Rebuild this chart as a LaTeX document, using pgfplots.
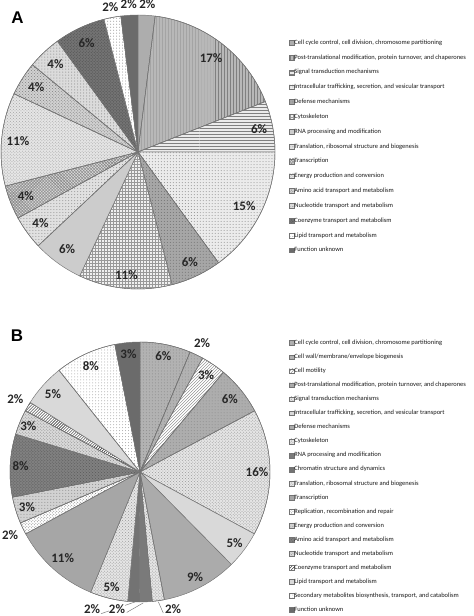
\documentclass[border=0pt]{standalone}
\usepackage{pgfplots}
\pgfplotsset{compat=1.18}
\usepackage{fontspec}
\setmainfont{Carlito}
\newfontfamily\arialfont{Liberation Sans}
\usetikzlibrary{patterns}

\tikzset{
  slice/.style={draw=black!55, line width=0.45bp},
  slicelabel/.style={font=\fontsize{13}{13}\selectfont\bfseries, text=black!85, inner sep=0pt},
  % panel A
  sA1/.style={slice, fill=black!32},
  sA2/.style={slice, fill=black!28, postaction={pattern=vertical lines, pattern color=black!50}},
  sA3/.style={slice, fill=black!8, postaction={pattern=horizontal lines, pattern color=black!50}},
  sA4/.style={slice, fill=black!8, postaction={pattern=dots, pattern color=black!45}},
  sA5/.style={slice, fill=black!35, postaction={pattern=dots, pattern color=black!55}},
  sA6/.style={slice, fill=black!6, postaction={pattern=grid, pattern color=black!40}},
  sA7/.style={slice, fill=black!20},
  sA8/.style={slice, fill=black!12, postaction={pattern=dots, pattern color=black!45}},
  sA9/.style={slice, fill=black!15, postaction={pattern=crosshatch, pattern color=black!50}},
  sA10/.style={slice, fill=black!10, postaction={pattern=crosshatch dots, pattern color=black!35}},
  sA11/.style={slice, fill=black!18, postaction={pattern=crosshatch dots, pattern color=black!50}},
  sA12/.style={slice, fill=black!14, postaction={pattern=dots, pattern color=black!50}},
  sA13/.style={slice, fill=black!55, postaction={pattern=crosshatch dots, pattern color=black!70}},
  sA14/.style={slice, fill=white, postaction={pattern=dots, pattern color=black!45}},
  sA15/.style={slice, fill=black!58},
  % panel B
  sB1/.style={slice, fill=black!30, postaction={pattern=dots, pattern color=black!45}},
  sB2/.style={slice, fill=black!30, postaction={pattern=dots, pattern color=black!45}},
  sB3/.style={slice, fill=white, postaction={pattern=north east lines, pattern color=black!50}},
  sB4/.style={slice, fill=black!32, postaction={pattern=dots, pattern color=black!45}},
  sB5/.style={slice, fill=black!10, postaction={pattern=crosshatch dots, pattern color=black!40}},
  sB6/.style={slice, fill=black!15},
  sB7/.style={slice, fill=black!33},
  sB8/.style={slice, fill=black!10, postaction={pattern=crosshatch dots, pattern color=black!40}},
  sB9/.style={slice, fill=black!52},
  sB10/.style={slice, fill=black!55},
  sB11/.style={slice, fill=black!10, postaction={pattern=crosshatch dots, pattern color=black!40}},
  sB12/.style={slice, fill=black!35},
  sB13/.style={slice, fill=white, postaction={pattern=crosshatch dots, pattern color=black!50}},
  sB14/.style={slice, fill=black!18, postaction={pattern=dots, pattern color=black!45}},
  sB15/.style={slice, fill=black!50, postaction={pattern=crosshatch dots, pattern color=black!65}},
  sB16/.style={slice, fill=black!15, postaction={pattern=crosshatch dots, pattern color=black!45}},
  sB17/.style={slice, fill=white, postaction={pattern=north east lines, pattern color=black!90}},
  sB18/.style={slice, fill=black!15},
  sB19/.style={slice, fill=white, postaction={pattern=dots, pattern color=black!35}},
  sB20/.style={slice, fill=black!58},
}

\pgfplotsset{
  pieaxis/.style={
    hide axis, clip=false, data cs=polar,
    xmin=-1, xmax=1, ymin=-1, ymax=1,
    area legend,
    legend image code/.code={\draw[##1] (0bp,-2.4bp) rectangle (4.8bp,2.4bp);},
    legend cell align=left,
    legend style={draw=none, fill=none, inner sep=0pt, anchor=north west,
      font=\fontsize{6.5}{7}\selectfont, text=black!90,
      nodes={inner sep=0pt, text height=4.6bp, text depth=1.4bp},
      /tikz/every even column/.append style={column sep=2bp}},
  },
}

% one wedge: value, style, label, label radius (0 = no label)
\newcommand\piecum{0}
\newcommand\pietotal{100}
\newcommand\pieR{137bp}
\newcommand\pieslice[4]{%
  \pgfmathsetmacro\aA{90-360*(\piecum/\pietotal)}%
  \pgfmathsetmacro\newcum{\piecum+#1}%
  \pgfmathsetmacro\aB{90-360*(\newcum/\pietotal)}%
  \pgfmathsetmacro\aM{(\aA+\aB)/2}%
  \pgfmathsetmacro\lx{#4*cos(\aM)}%
  \pgfmathsetmacro\ly{#4*sin(\aM)}%
  \edef\next{\noexpand\addplot[\unexpanded{#2}] coordinates {(0,0) (\aA,1)}
      arc[start angle=\aA, end angle=\aB, radius=\pieR] -- cycle;}\next
  \ifdim#4pt>0pt
    \edef\next{\noexpand\node[slicelabel] at (axis cs:\lx,\ly) {#3\noexpand\%};}\next
  \fi
  \xdef\piecum{\newcum}%
}

\begin{document}
\begin{tikzpicture}
\useasboundingbox (0,0) rectangle (474bp,616bp);

\node[font=\arialfont\fontsize{17}{17}\selectfont\bfseries] at (17.5bp,598.5bp) {A};
\node[font=\arialfont\fontsize{17}{17}\selectfont\bfseries] at (17bp,280bp) {B};

% ---------------- A ----------------
\renewcommand\pieR{137bp}\xdef\piecum{0}\renewcommand\pietotal{100}
\begin{axis}[pieaxis,
  at={(1bp,327bp)}, anchor=south west, x=137bp, y=137bp,
  legend style={at={(1.051,0.9106)}, row sep=8.83bp},
  legend entries={
    {Cell cycle control, cell division, chromosome partitioning},
    {Post-translational modification, protein turnover, and chaperones},
    {Signal transduction mechanisms},
    {Intracellular trafficking, secretion, and vesicular transport},
    {Defense mechanisms},
    {Cytoskeleton},
    {RNA processing and modification},
    {Translation, ribosomal structure and biogenesis},
    {Transcription},
    {Energy production and conversion},
    {Amino acid transport and metabolism},
    {Nucleotide transport and metabolism},
    {Coenzyme transport and metabolism},
    {Lipid transport and metabolism},
    {Function unknown}},
]
\pieslice{2}{sA1}{2}{1.08}
\pieslice{17}{sA2}{17}{0.87}
\pieslice{6}{sA3}{6}{0.9}
\pieslice{15}{sA4}{15}{0.87}
\pieslice{6}{sA5}{6}{0.89}
\pieslice{11}{sA6}{11}{0.9}
\pieslice{6}{sA7}{6}{0.88}
\pieslice{4}{sA8}{4}{0.88}
\pieslice{4}{sA9}{4}{0.88}
\pieslice{11}{sA10}{11}{0.88}
\pieslice{4}{sA11}{4}{0.88}
\pieslice{4}{sA12}{4}{0.88}
\pieslice{6}{sA13}{6}{0.88}
\pieslice{2}{sA14}{2}{1.08}
\pieslice{2}{sA15}{2}{1.08}
\end{axis}

% ---------------- B ----------------
\renewcommand\pieR{130bp}\xdef\piecum{0}\renewcommand\pietotal{100}
\begin{axis}[pieaxis,
  at={(10bp,14bp)}, anchor=south west, x=130bp, y=130bp,
  legend style={at={(1.073,1.008)}, row sep=8.03bp},
  legend entries={
    {Cell cycle control, cell division, chromosome partitioning},
    {Cell wall/membrane/envelope biogenesis},
    {Cell motility},
    {Post-translational modification, protein turnover, and chaperones},
    {Signal transduction mechanisms},
    {Intracellular trafficking, secretion, and vesicular transport},
    {Defense mechanisms},
    {Cytoskeleton},
    {RNA processing and modification},
    {Chromatin structure and dynamics},
    {Translation, ribosomal structure and biogenesis},
    {Transcription},
    {Replication, recombination and repair},
    {Energy production and conversion},
    {Amino acid transport and metabolism},
    {Nucleotide transport and metabolism},
    {Coenzyme transport and metabolism},
    {Lipid transport and metabolism},
    {Secondary metabolites biosynthesis, transport, and catabolism},
    {Function unknown}},
]
\pieslice{6.3}{sB1}{6}{0.91}
\pieslice{1.7}{sB2}{2}{1.1}
\pieslice{3.1}{sB3}{3}{0.9}
\pieslice{6.1}{sB4}{6}{0.89}
\pieslice{15.7}{sB5}{16}{0.9}
\pieslice{4.7}{sB6}{5}{0.91}
\pieslice{9.4}{sB7}{9}{0.91}
\pieslice{1.5}{sB8}{2}{0}
\pieslice{1.6}{sB9}{2}{0}
\pieslice{1.4}{sB10}{2}{0}
\pieslice{4.7}{sB11}{5}{0.91}
\pieslice{10.9}{sB12}{11}{0.89}
\pieslice{1.5}{sB13}{2}{1.11}
\pieslice{3.3}{sB14}{3}{0.91}
\pieslice{7.8}{sB15}{8}{0.92}
\pieslice{3.1}{sB16}{3}{0.93}
\pieslice{1.2}{sB17}{2}{1.11}
\pieslice{5.3}{sB18}{5}{0.9}
\pieslice{7.6}{sB19}{8}{0.9}
\pieslice{3.1}{sB20}{3}{0.91}
% labels of the three thin slices at the bottom, with leader lines
\draw[black!50, line width=0.5bp] (axis cs:-0.30,-1.09) -- (axis cs:-0.04,-1.0);
\draw[black!50, line width=0.5bp] (axis cs:-0.102,-1.08) -- (axis cs:0.025,-1.007);
\draw[black!50, line width=0.5bp] (axis cs:0.141,-0.998) -- (axis cs:0.179,-1.085);
\node[slicelabel] at (axis cs:-0.369,-1.057) {2\%};
\node[slicelabel, fill=white] at (axis cs:-0.177,-1.057) {2\%};
\node[slicelabel] at (axis cs:0.254,-1.057) {2\%};
\end{axis}
\end{tikzpicture}
\end{document}
